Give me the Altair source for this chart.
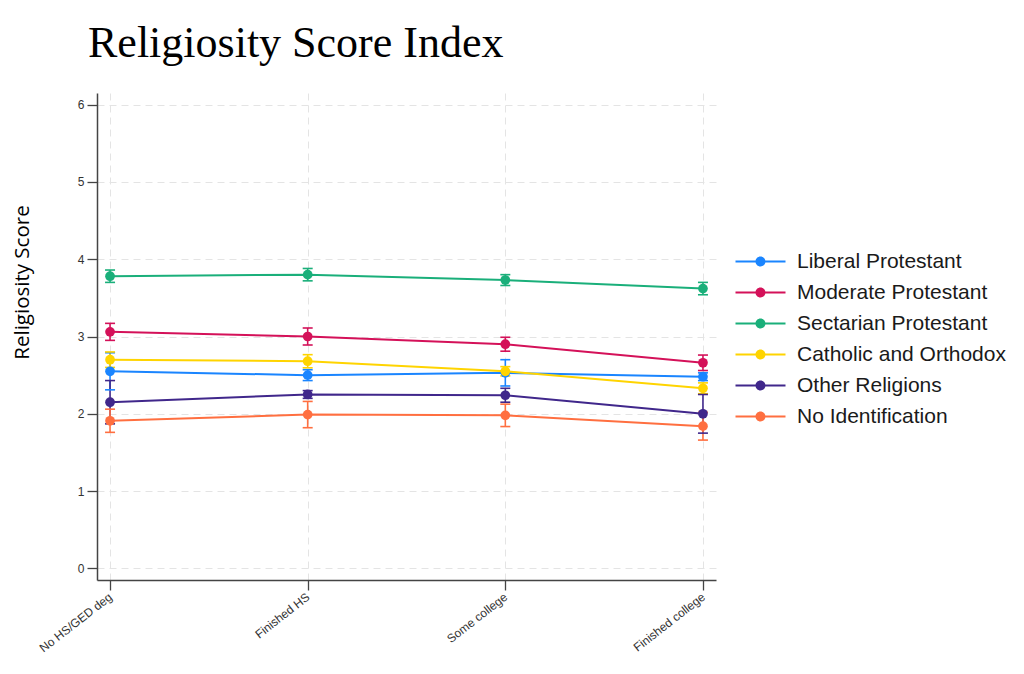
import altair as alt
import pandas as pd

education = ["No HS/GED deg", "Finished HS", "Some college", "Finished college"]
series = ["Liberal Protestant", "Moderate Protestant", "Sectarian Protestant",
          "Catholic and Orthodox", "Other Religions", "No Identification"]
colors = ["#1a85ff", "#d41159", "#1aaf7a", "#ffd400", "#40278b", "#ff6f40"]

liberal_mean = [2.55, 2.50, 2.53, 2.48]
liberal_err = [0.24, 0.07, 0.17, 0.05]
moderate_mean = [3.06, 3.00, 2.90, 2.66]
moderate_err = [0.11, 0.11, 0.09, 0.10]
sectarian_mean = [3.78, 3.80, 3.73, 3.62]
sectarian_err = [0.08, 0.08, 0.07, 0.08]
catholic_mean = [2.70, 2.68, 2.55, 2.33]
catholic_err = [0.10, 0.085, 0.06, 0.07]
other_mean = [2.15, 2.25, 2.24, 2.00]
other_err = [0.28, 0.05, 0.09, 0.25]
noid_mean = [1.91, 1.99, 1.98, 1.84]
noid_err = [0.15, 0.17, 0.145, 0.18]

means = [liberal_mean, moderate_mean, sectarian_mean, catholic_mean, other_mean, noid_mean]
errs = [liberal_err, moderate_err, sectarian_err, catholic_err, other_err, noid_err]

rows = []
for s, m, e in zip(series, means, errs):
    for ed, mv, ev in zip(education, m, e):
        rows.append({"edu": ed, "series": s, "mean": mv, "lo": mv - ev, "hi": mv + ev})
df = pd.DataFrame(rows)

x = alt.X("edu:N", sort=education, title=None,
          scale=alt.Scale(type="point", padding=0.066),
          axis=alt.Axis(labelAngle=-38, labelAlign="right", labelBaseline="middle",
                        labelFont="Liberation Sans", labelFontSize=12, labelColor="#333333",
                        labelPadding=5, tickSize=10, tickColor="#444444", tickWidth=1.3,
                        domainColor="#444444", domainWidth=1.5,
                        grid=True, gridDash=[7, 5], gridColor="#e4e4e4", gridWidth=1))

yscale = alt.Scale(domain=[-0.15, 6.15], nice=False, zero=False)
yaxis = alt.Axis(values=[0, 1, 2, 3, 4, 5, 6], format="d", title="Religiosity Score",
                 titleFont="Open Sans", titleFontSize=20.5, titleFontWeight="normal",
                 titleColor="#000000", titleAngle=-90, titleX=-65, titleY=189,
                 titleAlign="center",
                 labelFont="Liberation Sans", labelFontSize=12, labelColor="#333333",
                 labelPadding=3, tickSize=10, tickColor="#444444", tickWidth=1.3,
                 domainColor="#444444", domainWidth=1.5,
                 grid=True, gridDash=[7, 5], gridColor="#e4e4e4", gridWidth=1)

cscale = alt.Scale(domain=series, range=colors)
legend = alt.Legend(title=None, orient="none", legendX=653, legendY=158,
                    labelFont="Liberation Sans", labelFontSize=21, labelColor="#1a1a1a",
                    labelLimit=0,
                    symbolType="M-2.5,-0.1H2.5V0.1H-2.5Z M-0.5,0A0.5,0.5,0,1,1,0.5,0A0.5,0.5,0,1,1,-0.5,0Z",
                    symbolSize=400, symbolStrokeWidth=0, symbolOpacity=1,
                    labelOffset=26, rowPadding=9, padding=0)

# stroke / fill scales get a data-derived (sorted) domain so their hidden
# legends are not merged with the visible colour legend
stroke_enc = alt.Stroke("series:N", sort=series, scale=alt.Scale(range=colors), legend=None)
fill_enc = alt.Fill("series:N", sort=series, scale=alt.Scale(range=colors), legend=None)

base = alt.Chart(df)

rules = base.mark_rule(strokeWidth=1.6).encode(
    x=x, y=alt.Y("lo:Q", scale=yscale, axis=yaxis), y2="hi:Q", stroke=stroke_enc)
caps_lo = base.mark_tick(thickness=1.6, size=10, orient="horizontal", opacity=1).encode(
    x=x, y=alt.Y("lo:Q", scale=yscale), fill=fill_enc)
caps_hi = base.mark_tick(thickness=1.6, size=10, orient="horizontal", opacity=1).encode(
    x=x, y=alt.Y("hi:Q", scale=yscale), fill=fill_enc)
lines = base.mark_line(strokeWidth=2).encode(
    x=x, y=alt.Y("mean:Q", scale=yscale), stroke=stroke_enc, detail="series:N")
points = base.mark_point(filled=True, size=95, opacity=1).encode(
    x=x, y=alt.Y("mean:Q", scale=yscale),
    color=alt.Color("series:N", scale=cscale, sort=series, legend=legend))

chart = alt.layer(rules, caps_lo, caps_hi, lines, points).properties(
    width=619, height=487,
    title=alt.TitleParams("Religiosity Score Index", anchor="start", frame="group",
                          font="Liberation Serif", fontSize=44, fontWeight="normal",
                          color="#000000", baseline="alphabetic", offset=35, dx=-9, dy=43),
    autosize=alt.AutoSizeParams(type="none"),
    padding={"left": 89, "top": 85, "right": 300, "bottom": 80},
).configure(background="white").configure_view(stroke=None)

chart.save("out.html", embed_options={"renderer": "svg", "actions": False})
